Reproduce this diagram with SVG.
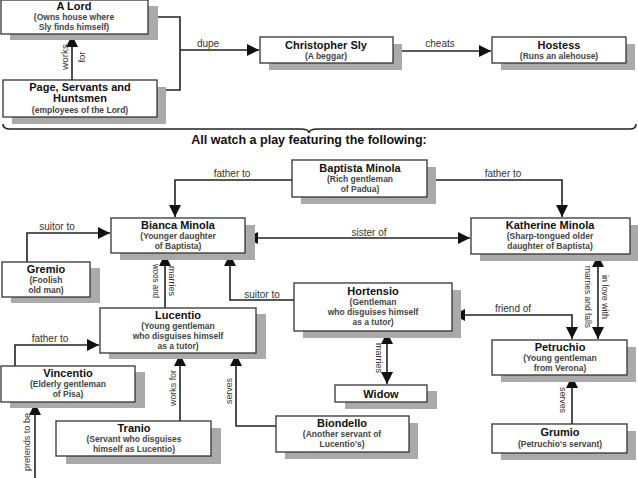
<svg xmlns="http://www.w3.org/2000/svg" width="638" height="478" viewBox="0 0 638 478">
<defs>
<marker id="ar" viewBox="0 0 10 10" refX="10" refY="5" markerWidth="12" markerHeight="12" markerUnits="userSpaceOnUse" orient="auto-start-reverse"><path d="M0,0L10,5L0,10z" fill="#111"/></marker>
<style>
.sh{fill:#aaa}
.bx{fill:#fff;stroke:#333;stroke-width:1.3}
.t{font-family:"Liberation Sans",Arial,sans-serif;font-weight:bold;font-size:11px;fill:#111;text-anchor:middle}
.s{font-family:"Liberation Sans",Arial,sans-serif;font-weight:bold;font-size:8.5px;fill:#444;text-anchor:middle}
.l{font-family:"Liberation Sans",Arial,sans-serif;font-size:10px;fill:#333;text-anchor:middle}
.v{font-size:9.5px}
.c{fill:none;stroke:#222;stroke-width:1.6}
.a{marker-end:url(#ar)}
.d{marker-start:url(#ar);marker-end:url(#ar)}
</style>
</defs>
<rect width="638" height="478" fill="#fff"/>
<g id="connectors">
<path class="c a" d="M72,80V35"/>
<path class="c" d="M148,17H180V90H157"/>
<path class="c a" d="M180,50H259"/>
<path class="c a" d="M393,51H491"/>
<path class="c a" d="M292,180H175V217"/>
<path class="c a" d="M427,180H562V217"/>
<path class="c d" d="M246,238H470"/>
<path class="c a" d="M27,262V233H110"/>
<path class="c a" d="M165,308V254"/>
<path class="c a" d="M294,300H230V254"/>
<path class="c d" d="M453,315H572V339"/>
<path class="c d" d="M598,255V339"/>
<path class="c d" d="M387,332V384"/>
<path class="c a" d="M15,366V345H99"/>
<path class="c a" d="M35,478V403"/>
<path class="c a" d="M180,421V354"/>
<path class="c a" d="M276,426H236V354"/>
<path class="c a" d="M572,424V376"/>
<path class="c" d="M3,124Q3,129,10,129H300Q309,129,309,133Q309,129,318,129H630Q636,129,636,124"/>
</g>
<g class="l">
<text class="v" x="68" y="57" transform="rotate(-90 68 57)" textLength="26" lengthAdjust="spacingAndGlyphs">works</text>
<text class="v" x="85" y="57" transform="rotate(-90 85 57)">for</text>
<text x="208" y="47">dupe</text>
<text x="440" y="47">cheats</text>
<text x="232" y="177">father to</text>
<text x="503" y="177">father to</text>
<text x="369" y="236">sister of</text>
<text x="57" y="230">suitor to</text>
<text class="v" x="153" y="281" transform="rotate(90 153 281)" textLength="34" lengthAdjust="spacingAndGlyphs">woos and</text>
<text class="v" x="169" y="281" transform="rotate(90 169 281)" textLength="30" lengthAdjust="spacingAndGlyphs">marries</text>
<text x="262" y="298">suitor to</text>
<text x="513" y="312">friend of</text>
<text class="v" x="585" y="297" transform="rotate(90 585 297)" textLength="62" lengthAdjust="spacingAndGlyphs">marries and falls</text>
<text class="v" x="602" y="297" transform="rotate(90 602 297)" textLength="44" lengthAdjust="spacingAndGlyphs">in love with</text>
<text class="v" x="376" y="358" transform="rotate(90 376 358)" textLength="30" lengthAdjust="spacingAndGlyphs">marries</text>
<text x="50" y="342">father to</text>
<text class="v" x="30" y="442" transform="rotate(-90 30 442)" textLength="58" lengthAdjust="spacingAndGlyphs">pretends to be</text>
<text class="v" x="176" y="388" transform="rotate(-90 176 388)" textLength="36" lengthAdjust="spacingAndGlyphs">works for</text>
<text class="v" x="232" y="391" transform="rotate(-90 232 391)" textLength="26" lengthAdjust="spacingAndGlyphs">serves</text>
<text class="v" x="560" y="400" transform="rotate(90 560 400)" textLength="26" lengthAdjust="spacingAndGlyphs">serves</text>
</g>
<text class="t" x="309" y="144" style="font-size:12.5px">All watch a play featuring the following:</text>
<g id="lord"><rect class="sh" x="10" y="6" width="148" height="34"/><rect class="bx" x="1" y="0" width="147" height="34"/><text class="t" x="74" y="10">A Lord</text><text class="s" x="74" y="20">(Owns house where</text><text class="s" x="74" y="30">Sly finds himself)</text></g>
<g id="page"><rect class="sh" x="12" y="87" width="154" height="37"/><rect class="bx" x="3" y="80" width="154" height="37"/><text class="t" x="80" y="91">Page, Servants and</text><text class="t" x="80" y="102">Huntsmen</text><text class="s" x="80" y="113">(employees of the Lord)</text></g>
<g id="sly"><rect class="sh" x="269" y="44" width="133" height="26"/><rect class="bx" x="260" y="37" width="133" height="26"/><text class="t" x="326" y="49">Christopher Sly</text><text class="s" x="326" y="59">(A beggar)</text></g>
<g id="hostess"><rect class="sh" x="501" y="44" width="134" height="26"/><rect class="bx" x="492" y="37" width="134" height="26"/><text class="t" x="559" y="49">Hostess</text><text class="s" x="559" y="59">(Runs an alehouse)</text></g>
<g id="baptista"><rect class="sh" x="301" y="167" width="135" height="37"/><rect class="bx" x="292" y="160" width="135" height="37"/><text class="t" x="360" y="172">Baptista Minola</text><text class="s" x="360" y="182">(Rich gentleman</text><text class="s" x="360" y="192">of Padua)</text></g>
<g id="bianca"><rect class="sh" x="120" y="225" width="135" height="35"/><rect class="bx" x="111" y="218" width="134" height="35"/><text class="t" x="178" y="229">Bianca Minola</text><text class="s" x="178" y="239">(Younger daughter</text><text class="s" x="178" y="249">of Baptista)</text></g>
<g id="katherine"><rect class="sh" x="480" y="225" width="158" height="36"/><rect class="bx" x="471" y="218" width="159" height="36"/><text class="t" x="550" y="229">Katherine Minola</text><text class="s" x="550" y="239">(Sharp-tongued older</text><text class="s" x="550" y="249">daughter of Baptista)</text></g>
<g id="gremio"><rect class="sh" x="11" y="268" width="89" height="35"/><rect class="bx" x="2" y="262" width="88" height="35"/><text class="t" x="46" y="273">Gremio</text><text class="s" x="46" y="283">(Foolish</text><text class="s" x="46" y="293">old man)</text></g>
<g id="lucentio"><rect class="sh" x="109" y="314" width="157" height="45"/><rect class="bx" x="100" y="308" width="156" height="45"/><text class="t" x="178" y="319">Lucentio</text><text class="s" x="178" y="329">(Young gentleman</text><text class="s" x="178" y="339">who disguises himself</text><text class="s" x="178" y="349">as a tutor)</text></g>
<g id="hortensio"><rect class="sh" x="303" y="290" width="158" height="48"/><rect class="bx" x="294" y="283" width="158" height="48"/><text class="t" x="373" y="295">Hortensio</text><text class="s" x="373" y="305">(Gentleman</text><text class="s" x="373" y="315">who disguises himself</text><text class="s" x="373" y="325">as a tutor)</text></g>
<g id="vincentio"><rect class="sh" x="10" y="372" width="135" height="36"/><rect class="bx" x="1" y="366" width="134" height="36"/><text class="t" x="68" y="377">Vincentio</text><text class="s" x="68" y="387">(Elderly gentleman</text><text class="s" x="68" y="397">of Pisa)</text></g>
<g id="widow"><rect class="sh" x="345" y="391" width="92" height="18"/><rect class="bx" x="335" y="385" width="92" height="17"/><text class="t" x="381" y="398">Widow</text></g>
<g id="petruchio"><rect class="sh" x="501" y="347" width="135" height="35"/><rect class="bx" x="492" y="340" width="135" height="35"/><text class="t" x="560" y="351">Petruchio</text><text class="s" x="560" y="361">(Young gentleman</text><text class="s" x="560" y="371">from Verona)</text></g>
<g id="tranio"><rect class="sh" x="66" y="428" width="155" height="36"/><rect class="bx" x="56" y="421" width="155" height="35"/><text class="t" x="134" y="432">Tranio</text><text class="s" x="134" y="442">(Servant who disguises</text><text class="s" x="134" y="452">himself as Lucentio)</text></g>
<g id="biondello"><rect class="sh" x="285" y="423" width="133" height="36"/><rect class="bx" x="276" y="416" width="133" height="36"/><text class="t" x="342" y="427">Biondello</text><text class="s" x="342" y="437">(Another servant of</text><text class="s" x="342" y="447">Lucentio's)</text></g>
<g id="grumio"><rect class="sh" x="501" y="431" width="135" height="29"/><rect class="bx" x="492" y="424" width="135" height="29"/><text class="t" x="560" y="436">Grumio</text><text class="s" x="560" y="447">(Petruchio's servant)</text></g>
</svg>
